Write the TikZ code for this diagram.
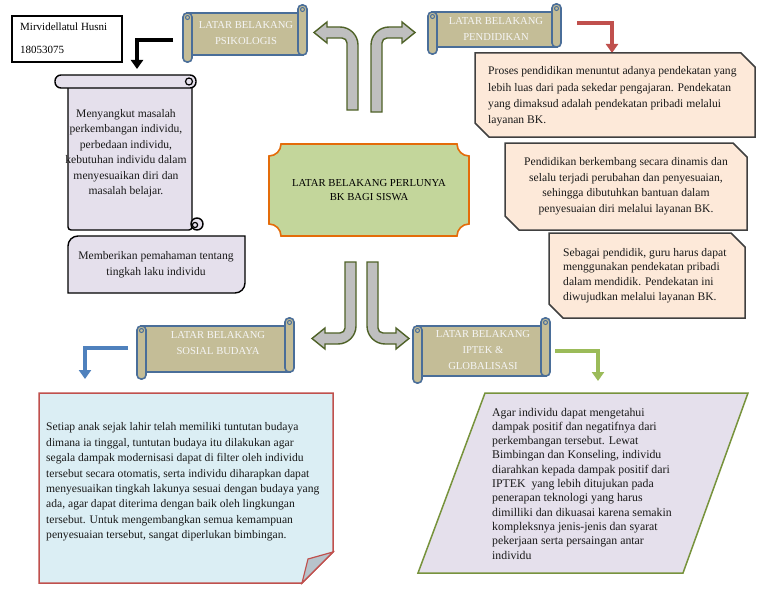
\documentclass[tikz,border=0pt]{standalone}
\usepackage{fontspec}
\setmainfont{Liberation Serif}
\usetikzlibrary{arrows.meta}
\definecolor{scrolltan}{HTML}{C4BD97}
\definecolor{scrollblue}{HTML}{4A6E99}
\definecolor{lav}{HTML}{E5E0EC}
\definecolor{peach}{HTML}{FDE9D9}
\definecolor{cgreen}{HTML}{C3D69B}
\definecolor{corange}{HTML}{E46C0A}
\definecolor{lblue}{HTML}{DBEEF4}
\definecolor{redb}{HTML}{C0504D}
\definecolor{greenb}{HTML}{77933C}
\definecolor{arrgray}{HTML}{BFBFBF}
\definecolor{arrgreen}{HTML}{4F6228}
\definecolor{blueb}{HTML}{4F81BD}
\definecolor{lgreen}{HTML}{9BBB59}
\definecolor{foldgray}{HTML}{B7C3CB}
\newcommand\hscroll[4]{%
  \draw[scrollshape] (#1+4,#2+8) rectangle (#3-4,#4-7);
  \draw[scrollshape,rounded corners=4] (#3-9,#2) rectangle (#3,#4-7);
  \draw[scrollblue,line width=1pt] (#3-4.5,#2+4.5) circle (2);
  \draw[scrollshape,rounded corners=4] (#1,#2+8) rectangle (#1+9,#4);
  \draw[scrollblue,line width=1pt] (#1+4.5,#2+12.5) circle (2);
}
\tikzset{
  scrollshape/.style={draw=scrollblue,fill=scrolltan,line width=1.6pt},
  scrolltext/.style={text=white!96!black,font=\fontsize{10.6}{16}\selectfont,align=center,inner sep=0pt},
  bodytext/.style={font=\fontsize{11.6}{15.5}\selectfont,inner sep=0pt,text=black!90},
  peachbox/.style={draw=black!75,fill=peach,line width=1.5pt,line join=miter},
  grayarrow/.style={draw=arrgreen,fill=arrgray,line width=1.4pt},
  elbow/.style={line width=3.4pt,-{Triangle[length=9pt,width=12pt]}},
}
\begin{document}
\begin{tikzpicture}[x=1pt,y=-1pt]
\useasboundingbox (0,0) rectangle (768,594);
\fill[white] (0,0) rectangle (768,594);

% name box
\draw[line width=1.3pt] (12,16) rectangle (122,62);
\node[anchor=west,inner sep=0pt,font=\fontsize{11}{11}\selectfont] (nama) at (20,27) {Mirvidellatul Husni};
\node[anchor=west,inner sep=0pt,font=\fontsize{11}{11}\selectfont] (nim) at (20,50) {18053075};

% central plaque
\draw[draw=corange,fill=cgreen,line width=1.6pt]
  (281,144) -- (457,144) .. controls (457,150.6) and (462.4,156) .. (469,156)
  -- (469,224) .. controls (462.4,224) and (457,229.4) .. (457,236)
  -- (281,236) .. controls (281,229.4) and (275.6,224) .. (269,224)
  -- (269,156) .. controls (275.6,156) and (281,150.6) .. (281,144) -- cycle;
\node[font=\fontsize{10.7}{14}\selectfont,align=center,inner sep=0pt] (pusat) at (369,190) {LATAR BELAKANG PERLUNYA\\BK BAGI SISWA};

% gray bent arrows
\draw[grayarrow] (347,110) -- (347,43) .. controls (347,40.2) and (344.8,38) .. (342,38) -- (327,38) -- (327,43) -- (314,32.5) -- (327,22) -- (327,27) -- (340,27) .. controls (349.9,27) and (358,35.1) .. (358,45) -- (358,110) -- cycle;
\draw[grayarrow] (382,112) -- (382,43) .. controls (382,40.2) and (384.2,38) .. (387,38) -- (402,38) -- (402,43) -- (415,32.5) -- (402,22) -- (402,27) -- (389,27) .. controls (379.1,27) and (371,35.1) .. (371,45) -- (371,112) -- cycle;
\draw[grayarrow] (345,262) -- (345,328) .. controls (345,330.8) and (342.8,333) .. (340,333) -- (325,333) -- (325,328) -- (312,338.5) -- (325,349) -- (325,344) -- (338,344) .. controls (347.9,344) and (356,335.9) .. (356,326) -- (356,262) -- cycle;
\draw[grayarrow] (378,262) -- (378,328) .. controls (378,330.8) and (380.2,333) .. (383,333) -- (396,333) -- (396,328) -- (409,338.5) -- (396,349) -- (396,344) -- (385,344) .. controls (375.1,344) and (367,335.9) .. (367,326) -- (367,262) -- cycle;

% scrolls
\hscroll{183}{5}{307}{62}
\node[scrolltext] (psi) at (246,33) {LATAR BELAKANG\\PSIKOLOGIS};
\hscroll{428}{4}{561}{54}
\node[scrolltext] (pend) at (496,29) {LATAR BELAKANG\\PENDIDIKAN};
\hscroll{137}{318}{294}{379}
\node[scrolltext] (sos) at (218,343.5) {LATAR BELAKANG\\SOSIAL BUDAYA};
\hscroll{413}{318}{550}{383}
\node[scrolltext] (ipt) at (483,350.5) {LATAR BELAKANG\\IPTEK \&\\GLOBALISASI};

% elbow arrows
\coordinate (a1) at (173,40); \coordinate (a2) at (137,69);
\draw[elbow,black] (a1) -| (a2);
\coordinate (b1) at (577,23); \coordinate (b2) at (612,53);
\draw[elbow,redb] (b1) -| (b2);
\coordinate (c1) at (128,348); \coordinate (c2) at (85,379);
\draw[elbow,blueb] (c1) -| (c2);
\coordinate (d1) at (555,351); \coordinate (d2) at (598,381);
\draw[elbow,lgreen] (d1) -| (d2);

% vertical scroll
\draw[line width=1.4pt,fill=lav,rounded corners=3] (68,81) -- (192,81) -- (192,230) -- (68,230) -- cycle;
\draw[line width=1.4pt,fill=lav,rounded corners=6] (55,75) rectangle (196,88);
\draw[line width=1.2pt] (189,81.5) circle (3.5);
\draw[line width=1.4pt,fill=lav] (197,224) circle (6);
\draw[line width=1.2pt] (195,225) circle (2.6);
\node[bodytext,align=center] (psitext) at (126,153) {Menyangkut masalah\\perkembangan individu,\\perbedaan individu,\\kebutuhan individu dalam\\menyesuaikan diri dan\\masalah belajar.};

% rounded diagonal box
\draw[line width=1.4pt,fill=lav] (78,236) -- (245,236) -- (245,283) .. controls (245,288.5) and (240.5,293) .. (235,293) -- (68,293) -- (68,246) .. controls (68,240.5) and (72.5,236) .. (78,236) -- cycle;
\node[bodytext,align=center] (psitext2) at (156,264.5) {Memberikan pemahaman tentang\\tingkah laku individu};

% peach boxes
\draw[peachbox] (475,53) -- (741,53) -- (755,67) -- (755,137) -- (489,137) -- (475,123) -- cycle;
\node[bodytext,font=\fontsize{11.6}{16.3}\selectfont,align=left,anchor=west] (pend1) at (488,96.5) {Proses pendidikan menuntut adanya pendekatan yang\\lebih luas dari pada sekedar pengajaran. Pendekatan\\yang dimaksud adalah pendekatan pribadi melalui\\layanan BK.};
\draw[peachbox] (505,143) -- (733,143) -- (747,157) -- (747,230) -- (519,230) -- (505,216) -- cycle;
\node[bodytext,align=center] (pend2) at (626,186) {Pendidikan berkembang secara dinamis dan\\selalu terjadi perubahan dan penyesuaian,\\sehingga dibutuhkan bantuan dalam\\penyesuaian diri melalui layanan BK.};
\draw[peachbox] (549,233) -- (731,233) -- (745,247) -- (745,318) -- (563,318) -- (549,304) -- cycle;
\node[bodytext,font=\fontsize{11.6}{14.8}\selectfont,align=left,anchor=west] (pend3) at (563,275.5) {Sebagai pendidik, guru harus dapat\\menggunakan pendekatan pribadi\\dalam mendidik. Pendekatan ini\\diwujudkan melalui layanan BK.};

% folded corner box
\draw[draw=redb,fill=lblue,line width=1.5pt,line join=miter] (39,393) -- (333,393) -- (333,552) -- (302,583) -- (39,583) -- cycle;
\draw[draw=redb,fill=foldgray,line width=1.2pt,line join=miter] (333,552) -- (308,559) -- (302,583) -- cycle;
\node[bodytext,font=\fontsize{11.6}{15.4}\selectfont,align=left,anchor=west] (sostext) at (46,482) {Setiap anak sejak lahir telah memiliki tuntutan budaya\\dimana ia tinggal, tuntutan budaya itu dilakukan agar\\segala dampak modernisasi dapat di filter oleh individu\\tersebut secara otomatis, serta individu diharapkan dapat\\menyesuaikan tingkah lakunya sesuai dengan budaya yang\\ada, agar dapat diterima dengan baik oleh lingkungan\\tersebut. Untuk mengembangkan semua kemampuan\\penyesuaian tersebut, sangat diperlukan bimbingan.};

% parallelogram
\draw[draw=greenb,fill=lav,line width=1.5pt,line join=miter] (485,393) -- (748,393) -- (683,573) -- (418,573) -- cycle;
\node[bodytext,font=\fontsize{11.8}{14.3}\selectfont,align=left,anchor=west] (ipttext) at (492,483.5) {Agar individu dapat mengetahui\\dampak positif dan negatifnya dari\\perkembangan tersebut. Lewat\\Bimbingan dan Konseling, individu\\diarahkan kepada dampak positif dari\\IPTEK\ \ yang lebih ditujukan pada\\penerapan teknologi yang harus\\dimilliki dan dikuasai karena semakin\\kompleksnya jenis-jenis dan syarat\\pekerjaan serta persaingan antar\\individu};
\end{tikzpicture}
\end{document}
